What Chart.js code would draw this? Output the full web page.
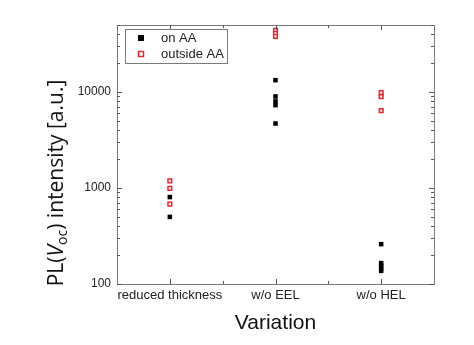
<!DOCTYPE html>
<html>
<head>
<meta charset="utf-8">
<script src="https://cdn.jsdelivr.net/npm/chart.js@4.4.0/dist/chart.umd.min.js"></script>
<style>
  html, body { margin: 0; padding: 0; background: #fff; }
  #wrap { width: 474px; height: 345px; position: relative; }
</style>
</head>
<body>
<div id="wrap"><canvas id="plChart" width="474" height="345"></canvas></div>
<script>
// @ts-check

const variations = ["reduced thickness", "w/o EEL", "w/o HEL"];
const yTicks = [100, 1000, 10000];

// PL intensity per variation, one list per sample set
const onAA = [
  [805, 500],
  [13300, 9000, 8000, 7300, 4700],
  [260, 165, 155, 145, 137],
];
const outsideAA = [
  [1190, 990, 680],
  [44000, 41000, 38000],
  [9850, 8950, 6400],
];

const FRAME = "#7a7a7a";
const RED = "#e8262b";

function toPoints(groups) {
  const pts = [];
  groups.forEach((vals, i) => vals.forEach(v => pts.push({ x: i + 1, y: v })));
  return pts;
}

// box + inward ticks on all four sides, legend and y title
const framePlugin = {
  id: "frame",
  afterDraw(chart) {
    const { ctx, chartArea: a, scales } = chart;
    const x = scales.x, y = scales.y;
    ctx.save();
    ctx.strokeStyle = FRAME;
    ctx.lineWidth = 1;
    ctx.strokeRect(a.left + 0.5, a.top + 0.5, a.right - a.left, a.bottom - a.top);

    ctx.strokeStyle = "#555";
    ctx.beginPath();
    // x ticks: major at categories, minor between
    for (let v = 1; v <= 3; v += 0.5) {
      const px = Math.round(x.getPixelForValue(v)) + 0.5;
      const len = Number.isInteger(v) ? 5 : 3;
      ctx.moveTo(px, a.bottom); ctx.lineTo(px, a.bottom - len);
      ctx.moveTo(px, a.top); ctx.lineTo(px, a.top + len);
    }
    // log ticks
    for (let d = 100; d <= 10000; d *= 10) {
      for (let m = 1; m <= 9; m++) {
        const v = d * m;
        if (v > y.max) break;
        const py = Math.round(y.getPixelForValue(v)) + 0.5;
        const len = m === 1 ? 5 : 3;
        ctx.moveTo(a.left, py); ctx.lineTo(a.left + len, py);
        ctx.moveTo(a.right, py); ctx.lineTo(a.right - len, py);
      }
    }
    ctx.stroke();

    // legend
    ctx.strokeStyle = FRAME;
    ctx.strokeRect(125.5, 29.5, 102, 34);
    ctx.fillStyle = "#000";
    ctx.fillRect(138, 35, 6, 6);
    ctx.strokeStyle = RED;
    ctx.lineWidth = 1.5;
    ctx.strokeRect(138.5, 51.5, 5, 5);
    ctx.fillStyle = "#222";
    ctx.font = "13px 'Liberation Sans', Arial, sans-serif";
    ctx.textBaseline = "middle";
    ctx.fillText("on AA", 161, 38);
    ctx.fillText("outside AA", 161, 54);

    // y axis title with italic V and subscript oc
    const big = "21px 'Open Sans', sans-serif";
    const ital = "italic 21px 'Open Sans', sans-serif";
    const small = "14px 'Open Sans', sans-serif";
    const parts = [
      { t: "PL(", f: big, dy: 0 },
      { t: "V", f: ital, dy: 0 },
      { t: "oc", f: small, dy: 4 },
      { t: ") intensity [a.u.]", f: big, dy: 0 },
    ];
    let total = 0;
    parts.forEach(p => { ctx.font = p.f; total += ctx.measureText(p.t).width; });
    ctx.translate(55, 183);
    ctx.rotate(-Math.PI / 2);
    ctx.fillStyle = "#111";
    ctx.textBaseline = "alphabetic";
    let cx = -total / 2;
    parts.forEach(p => {
      ctx.font = p.f;
      ctx.fillText(p.t, cx, 8 + p.dy);
      cx += ctx.measureText(p.t).width;
    });
    ctx.restore();
  },
};

new Chart(document.getElementById("plChart"), {
  type: "scatter",
  data: {
    datasets: [
      {
        label: "on AA",
        data: toPoints(onAA),
        pointStyle: "rect",
        pointRadius: 3.2,
        backgroundColor: "#000",
        borderColor: "#000",
        borderWidth: 0,
      },
      {
        label: "outside AA",
        data: toPoints(outsideAA),
        pointStyle: "rect",
        pointRadius: 2.6,
        backgroundColor: "#fff",
        borderColor: RED,
        borderWidth: 1.5,
      },
    ],
  },
  options: {
    responsive: false,
    animation: false,
    layout: { padding: { left: 0, top: 25, right: 40, bottom: 0 } },
    plugins: { legend: { display: false }, tooltip: { enabled: false } },
    scales: {
      x: {
        type: "linear",
        min: 0.5,
        max: 3.5,
        afterFit(s) { s.height = 61; },
        afterBuildTicks(s) { s.ticks = [1, 2, 3].map(v => ({ value: v })); },
        grid: { display: false, drawTicks: false },
        border: { display: false },
        ticks: {
          padding: 4,
          color: "#222",
          font: { family: "'Liberation Sans', Arial, sans-serif", size: 13 },
          maxRotation: 0,
          callback: v => variations[v - 1],
        },
        title: {
          display: true,
          text: "Variation",
          color: "#111",
          font: { family: "'Liberation Sans', Arial, sans-serif", size: 21 },
          padding: { top: 8, bottom: 9 },
        },
      },
      y: {
        type: "logarithmic",
        min: 100,
        max: 50000,
        afterFit(s) { s.width = 117; },
        afterBuildTicks(s) { s.ticks = yTicks.map(v => ({ value: v })); },
        grid: { display: false, drawTicks: false },
        border: { display: false },
        ticks: {
          padding: 6,
          color: "#222",
          font: { family: "'Liberation Sans', Arial, sans-serif", size: 12 },
          callback: v => String(v),
        },
      },
    },
  },
  plugins: [framePlugin],
});
</script>
</body>
</html>
